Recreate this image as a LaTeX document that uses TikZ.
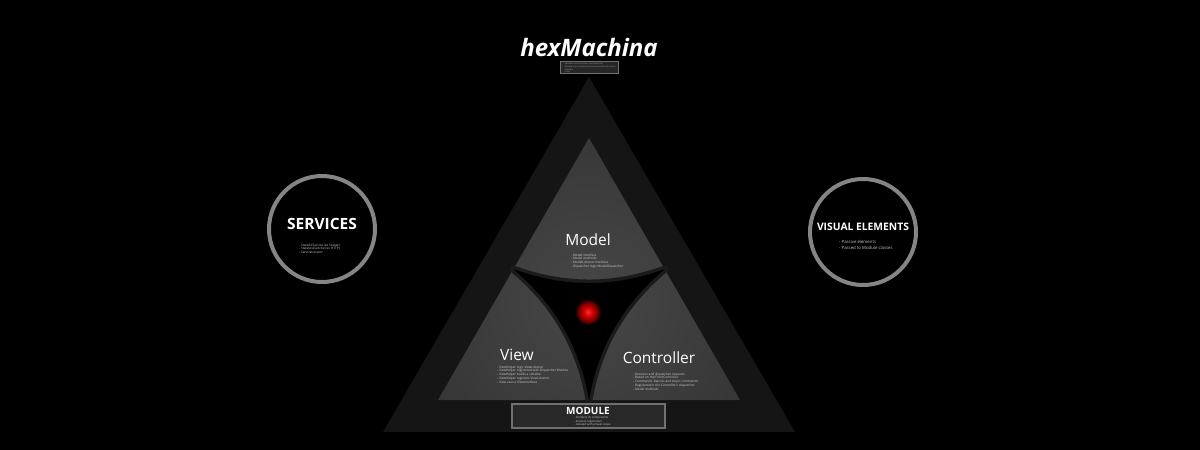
\documentclass[tikz,border=0pt]{standalone}
\usepackage{fontspec}
\setmainfont{Open Sans}
\definecolor{outertri}{HTML}{151515}
\definecolor{regionin}{HTML}{474747}
\definecolor{regionout}{HTML}{282828}
\definecolor{band}{HTML}{1B1B1B}
\definecolor{ringgray}{HTML}{858585}
\definecolor{boxfill}{HTML}{282828}
\definecolor{boxline}{HTML}{707070}
\definecolor{smalltext}{HTML}{C8C8C8}
\definecolor{redA}{HTML}{FF2A2A}
\definecolor{redB}{HTML}{D00000}
\definecolor{redC}{HTML}{6A0000}
\pgfdeclareradialshading{redglow}{\pgfpoint{0bp}{0bp}}{color(0bp)=(redA); color(9bp)=(redB); color(19bp)=(redC); color(25bp)=(black); color(50bp)=(black)}
\begin{document}
\begin{tikzpicture}[x=1pt,y=-1pt,
  titletext/.style={text=white, inner sep=0pt, font=\fontsize{24}{28}\selectfont\bfseries\itshape},
  mvctext/.style={text=white, inner sep=0pt, font=\fontsize{15.5}{18}\selectfont},
  capstext/.style={text=white, inner sep=0pt, font=\fontsize{#1}{#1}\selectfont\bfseries},
  bullets/.style={text=smalltext, inner sep=0pt, anchor=north west, align=left, font=\fontsize{3.2}{3.75}\selectfont},
  ring/.style={circle, draw=ringgray, line width=4pt, fill=black, minimum size=106pt, inner sep=0pt},
  framebox/.style={draw=boxline, fill=boxfill, line width=1.3pt, inner sep=0pt, minimum width=#1},
]
% background
\fill[black] (0,0) rectangle (1200,450);
\useasboundingbox (0,0) rectangle (1200,450);

% outer triangle
\fill[outertri] (589,77) -- (383,432) -- (795,432) -- cycle;

% inner triangle with radial shading
\begin{scope}
  \clip (589,138) -- (438,400) -- (740,400) -- cycle;
  \shade[inner color=regionin, outer color=regionout] (589,300) circle (330);
\end{scope}

% black centre (concave curved triangle)
\coordinate (L) at (513,269);
\coordinate (R) at (665,269);
\coordinate (B) at (589,400);
\draw[band, line width=7pt, line join=round]
  (L) .. controls (564.7,287.7) and (613.3,287.7) .. (R)
      .. controls (623.5,303.4) and (598.1,347.0) .. (B)
      .. controls (579.9,347.0) and (554.5,303.4) .. (L) -- cycle;
\fill[black]
  (L) .. controls (564.7,287.7) and (613.3,287.7) .. (R)
      .. controls (623.5,303.4) and (598.1,347.0) .. (B)
      .. controls (579.9,347.0) and (554.5,303.4) .. (L) -- cycle;

% red ball
\shade[shading=redglow] (588,312) circle (13);

% title and small box
\node[titletext] (title) at (589,47) {hexMachina};
\node[framebox=58pt, minimum height=12pt, line width=1pt, fill=black!85!white] (infobox) at (589,67) {};
\node[bullets, font=\fontsize{2.1}{2.9}\selectfont, text=smalltext!80!black] (infotext) at (564,62.5)
  {- Module communication via Dispatcher\\- Modules are isolated and communicate with events\\- Domain\\- Core};

% services
\node[ring] (services) at (322,229) {};
\node[capstext=15.5] (servlabel) at (322,224) {SERVICES};
\node[bullets] (servtext) at (299,243.5)
  {- StatefulService (ex Socket)\\- StatelessService (ex HTTP)\\- ServiceLocator};

% visual elements
\node[ring] (visual) at (863,232) {};
\node[capstext=10.3] (vislabel) at (863,227) {VISUAL ELEMENTS};
\node[bullets, font=\fontsize{4.3}{5.6}\selectfont] (vistext) at (839,240)
  {- Passive elements\\- Passed to Module classes};

% model
\node[mvctext] (model) at (588,240) {Model};
\node[bullets] (modeltext) at (571,253.5)
  {- Model interface\\- Model methods\\- ModelListener interface\\- Dispatcher logic ModelDispatcher};

% view
\node[mvctext] (view) at (517,355) {View};
\node[bullets] (viewtext) at (497,365.5)
  {- ViewHelper logic ViewListener\\- ViewHelper registered with Dispatcher Module\\- ViewHelper builds a callable\\- ViewHelper registers ViewListener\\- View uses a ViewInterface};

% controller
\node[mvctext] (controller) at (659,358) {Controller};
\node[bullets] (ctrltext) at (633,372.5)
  {- Receives and dispatches requests\\- Based on the FrontController\\- Commands, Macros and Async commands\\- Registered in the Controller's dispatcher\\- Model methods};

% module
\node[framebox=153pt, minimum height=24pt] (module) at (588.5,416) {};
\node[capstext=10] (modlabel) at (588,410.5) {MODULE};
\node[bullets, font=\fontsize{2.8}{3.3}\selectfont] (modtext) at (574,416.5)
  {- Contains its components\\- Services registration\\- Isolated with private scope};
\end{tikzpicture}
\end{document}
